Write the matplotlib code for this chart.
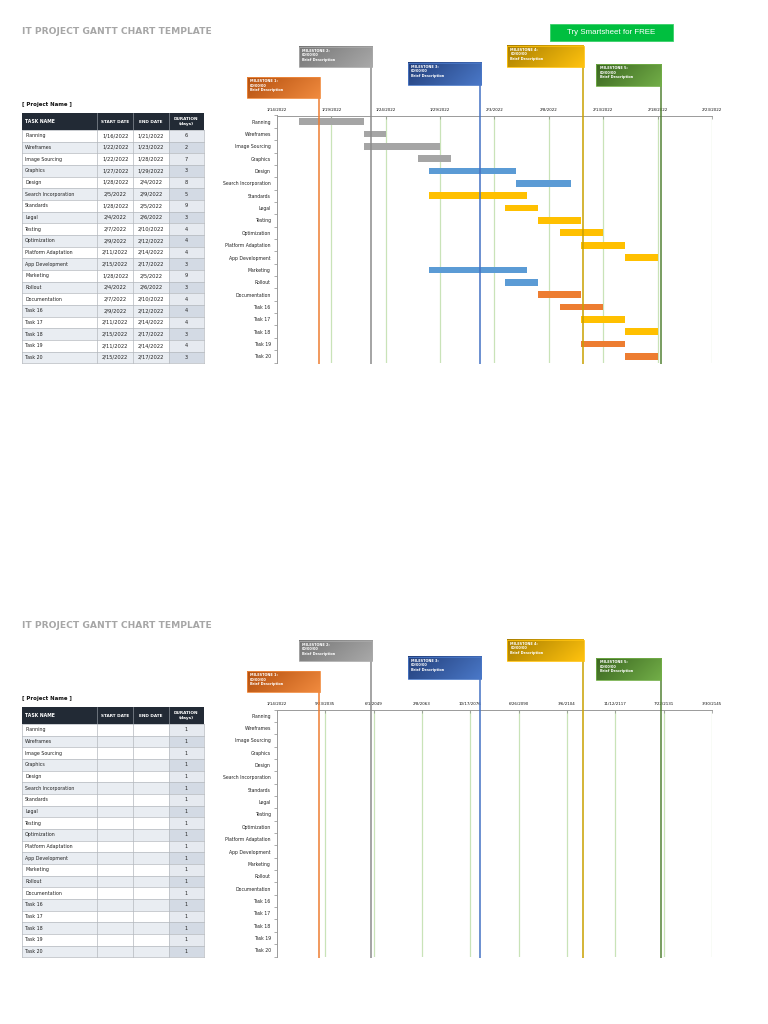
import matplotlib
matplotlib.use("Agg")
import matplotlib.pyplot as plt
import matplotlib.dates as mdates
from matplotlib.colors import LinearSegmentedColormap
from matplotlib.patches import Rectangle
import numpy as np
from datetime import datetime

W, H = 768, 1024

# ---------------- data ----------------
tasks = ["Planning", "Wireframes", "Image Sourcing", "Graphics", "Design",
         "Search Incorporation", "Standards", "Legal", "Testing", "Optimization",
         "Platform Adaptation", "App Development", "Marketing", "Rollout",
         "Documentation", "Task 16", "Task 17", "Task 18", "Task 19", "Task 20"]
start_dates = ["1/16/2022", "1/22/2022", "1/22/2022", "1/27/2022", "1/28/2022",
               "2/5/2022", "1/28/2022", "2/4/2022", "2/7/2022", "2/9/2022",
               "2/11/2022", "2/15/2022", "1/28/2022", "2/4/2022", "2/7/2022",
               "2/9/2022", "2/11/2022", "2/15/2022", "2/11/2022", "2/15/2022"]
end_dates = ["1/21/2022", "1/23/2022", "1/28/2022", "1/29/2022", "2/4/2022",
             "2/9/2022", "2/5/2022", "2/6/2022", "2/10/2022", "2/12/2022",
             "2/14/2022", "2/17/2022", "2/5/2022", "2/6/2022", "2/10/2022",
             "2/12/2022", "2/14/2022", "2/17/2022", "2/14/2022", "2/17/2022"]
durations = [6, 2, 7, 3, 8, 5, 9, 3, 4, 4, 4, 3, 9, 3, 4, 4, 4, 3, 4, 3]
bar_colors = ["#a5a5a5", "#a5a5a5", "#a5a5a5", "#a5a5a5",
              "#5b9bd5", "#5b9bd5",
              "#ffc000", "#ffc000", "#ffc000", "#ffc000", "#ffc000", "#ffc000",
              "#5b9bd5", "#5b9bd5",
              "#ed7d31", "#ed7d31",
              "#ffc000", "#ffc000",
              "#ed7d31", "#ed7d31"]
top_ticks = ["1/14/2022", "1/19/2022", "1/24/2022", "1/29/2022", "2/3/2022",
             "2/8/2022", "2/13/2022", "2/18/2022", "2/23/2022"]

blank_starts = [""] * 20
blank_ends = [""] * 20
blank_durations = [1, 1, 1, 1, 1, 1, 1, 1, 1, 1, 1, 1, 1, 1, 1, 1, 1, 1, 1, 1]
bottom_ticks = ["1/14/2022", "9/23/2035", "6/1/2049", "2/8/2063", "10/17/2076",
                "6/26/2090", "3/6/2104", "11/12/2117", "7/22/2131", "3/30/2145"]

milestone_names = ["MILESTONE 1:", "MILESTONE 2:", "MILESTONE 3:", "MILESTONE 4:", "MILESTONE 5:"]
milestone_dates = ["00/00/00"] * 5
milestone_desc = ["Brief Description"] * 5

title_text = "IT PROJECT GANTT CHART TEMPLATE"
project_text = "[ Project Name ]"
header_text = ["TASK NAME", "START DATE", "END DATE", "DURATION\n(days)"]

# ---------------- layout / style ----------------
milestone_boxes = [  # x0, x1, y0, y1, dark, light, line colour
    (246.5, 319.5, 77, 97.8, "#b4500f", "#f08a3e", "#ed7d31"),
    (298.5, 372.0, 46.7, 67.3, "#767676", "#a9a9a9", "#8c8c8c"),
    (407.5, 481.0, 62.7, 85.0, "#233f7a", "#4a78c8", "#4472c4"),
    (507.0, 583.5, 45.7, 67.3, "#a87e00", "#ffc20e", "#c9a000"),
    (596.0, 661.3, 64.0, 85.7, "#3b6620", "#72ae48", "#548235"),
]
font_main = "DejaVu Sans"

fig = plt.figure(figsize=(W / 100, H / 100), dpi=100)
fig.patch.set_facecolor("white")

ov = fig.add_axes([0, 0, 1, 1], zorder=10)
ov.set_facecolor("none")
ov.axis("off")


def parse(s):
    return datetime.strptime(s, "%m/%d/%Y")


def gradient_box(x0, x1, y0, y1, c_dark, c_light):
    cmap = LinearSegmentedColormap.from_list("g", [c_dark, c_light])
    xx, yy = np.meshgrid(np.linspace(0, 1, 60), np.linspace(0, 1, 20))
    g = 0.75 * xx + 0.25 * yy
    ov.imshow(g, cmap=cmap, extent=(x0, x1, y1, y0), aspect="auto",
              interpolation="bilinear", zorder=5)
    ov.add_patch(Rectangle((x0, y0), x1 - x0, y1 - y0, fill=False,
                           edgecolor=c_light, lw=0.6, zorder=6))


def draw_section(off, starts, ends, durs, ticks, draw_bars, button):
    # title
    ov.text(21.5, 31.7 + off, title_text, fontsize=6.6, fontweight="bold",
            color="#a6a6a6", family=font_main, va="center", ha="left", zorder=7)
    if button:
        ov.add_patch(Rectangle((550, 24), 122.7, 17.3, facecolor="#00bf3f",
                               edgecolor="#3ad06a", lw=0.6, zorder=5))
        ov.text(611.3, 32.8, "Try Smartsheet for FREE", fontsize=5.7,
                color="white", family="Liberation Sans", ha="center",
                va="center", zorder=7)

    # milestones
    for k, (x0, x1, y0, y1, cd, cl, lc) in enumerate(milestone_boxes):
        gradient_box(x0, x1, y0 + off, y1 + off, cd, cl)
        tx = x0 + 3.5
        ov.text(tx, y0 + off + 4.3, milestone_names[k], fontsize=2.5,
                color="white", fontweight="bold", family=font_main,
                va="center", zorder=7)
        ov.text(tx, y0 + off + 8.6, milestone_dates[k], fontsize=2.5,
                color="white", fontweight="bold", family=font_main,
                va="center", zorder=7)
        ov.text(tx, y0 + off + 13.0, milestone_desc[k], fontsize=2.5,
                color="white", fontweight="bold", family=font_main,
                va="center", zorder=7)
        ov.plot([x1 - 0.6, x1 - 0.6], [y1 + off, 363.5 + off], color=lc,
                lw=1.1, zorder=4, solid_capstyle="butt")

    # table
    ov.text(21.5, 104.5 + off, project_text, fontsize=3.9, fontweight="bold",
            color="#111111", family=font_main, va="center", ha="left", zorder=7)
    cols = [21.7, 97.3, 133.0, 168.5, 203.5]
    hy0, hy1 = 113.3 + off, 130.0 + off
    ov.add_patch(Rectangle((cols[0], hy0), cols[-1] - cols[0], hy1 - hy0,
                           facecolor="#222a35", edgecolor="none", zorder=2))
    for c in range(1, 4):
        ov.plot([cols[c], cols[c]], [hy0, hy1], color="#8a9099", lw=0.5, zorder=3)
    ov.text(cols[0] + 3.3, (hy0 + hy1) / 2, header_text[0], fontsize=3.3,
            fontweight="bold", color="white", family=font_main, va="center",
            zorder=7)
    for c in range(1, 4):
        ov.text((cols[c] + cols[c + 1]) / 2, (hy0 + hy1) / 2, header_text[c],
                fontsize=3.1, fontweight="bold", color="white",
                family=font_main, va="center", ha="center", linespacing=1.15,
                zorder=7)
    rh = (363.3 - 130.0) / len(tasks)
    for i, name in enumerate(tasks):
        ry0 = hy1 + i * rh
        shaded = (i % 2 == 1)
        base = "#e9edf2" if shaded else "white"
        ov.add_patch(Rectangle((cols[0], ry0), cols[3] - cols[0], rh,
                               facecolor=base, edgecolor="none", zorder=2))
        ov.add_patch(Rectangle((cols[3], ry0), cols[4] - cols[3], rh,
                               facecolor="#d3dae4" if shaded else "#e6eaf0",
                               edgecolor="none", zorder=2))
        yc = ry0 + rh / 2
        ov.text(cols[0] + 3.3, yc, name, fontsize=3.4, color="#222222",
                family=font_main, va="center", zorder=7)
        ov.text((cols[1] + cols[2]) / 2, yc, starts[i], fontsize=3.7,
                color="#222222", family=font_main, va="center", ha="center",
                zorder=7)
        ov.text((cols[2] + cols[3]) / 2, yc, ends[i], fontsize=3.7,
                color="#222222", family=font_main, va="center", ha="center",
                zorder=7)
        ov.text((cols[3] + cols[4]) / 2, yc, str(durs[i]), fontsize=3.6,
                color="#222222", family=font_main, va="center", ha="center",
                zorder=7)
    # grid lines of table
    ybot = hy1 + len(tasks) * rh
    for i in range(len(tasks) + 1):
        yy = hy1 + i * rh
        ov.plot([cols[0], cols[-1]], [yy, yy], color="#b4b8bd", lw=0.5, zorder=3)
    for c in cols:
        ov.plot([c, c], [hy1, ybot], color="#b4b8bd", lw=0.5, zorder=3)

    # gantt axes
    top_px, bot_px = 115.5 + off, 362.5 + off
    ax = fig.add_axes([277 / W, 1 - bot_px / H, 435 / W, (bot_px - top_px) / H],
                      zorder=1)
    ax.set_facecolor("none")
    tick_pos = [mdates.date2num(parse(t)) for t in ticks]
    ax.set_xlim(tick_pos[0], tick_pos[-1])
    ax.set_ylim(len(tasks) - 0.5, -0.5)
    for tp in tick_pos[1:]:
        ax.axvline(tp, color="#c9e3b8", lw=0.9, zorder=0)
    ax.set_xticks(tick_pos)
    ax.set_xticklabels(ticks)
    ax.xaxis.tick_top()
    ax.tick_params(axis="x", which="major", direction="in", length=2,
                   width=0.5, color="#8c8c8c", pad=2.2, labelsize=2.9,
                   labelcolor="#111111")
    ax.set_yticks(range(len(tasks)))
    ax.set_yticklabels(tasks)
    ax.set_yticks(np.arange(-0.5, len(tasks), 1.0), minor=True)
    ax.tick_params(axis="y", which="major", length=0, pad=4.5, labelsize=3.3,
                   labelcolor="#222222")
    ax.tick_params(axis="y", which="minor", length=2.5, width=0.5,
                   color="#8c8c8c", direction="out")
    for lab in ax.get_xticklabels() + ax.get_yticklabels():
        lab.set_family(font_main)
    for s in ["right", "bottom"]:
        ax.spines[s].set_visible(False)
    ax.spines["top"].set_color("#9a9a9a")
    ax.spines["top"].set_linewidth(0.7)
    ax.spines["left"].set_color("#9a9a9a")
    ax.spines["left"].set_linewidth(0.7)
    if draw_bars:
        for i in range(len(tasks)):
            if starts[i]:
                ax.barh(i, durs[i], left=mdates.date2num(parse(starts[i])),
                        height=0.54, color=bar_colors[i], zorder=2,
                        edgecolor="none")
    return ax


draw_section(0, start_dates, end_dates, durations, top_ticks, True, True)
draw_section(594, blank_starts, blank_ends, blank_durations, bottom_ticks, False, False)

ov.set_xlim(0, W)
ov.set_ylim(H, 0)

fig.savefig("out.png", dpi=100, facecolor="white")
